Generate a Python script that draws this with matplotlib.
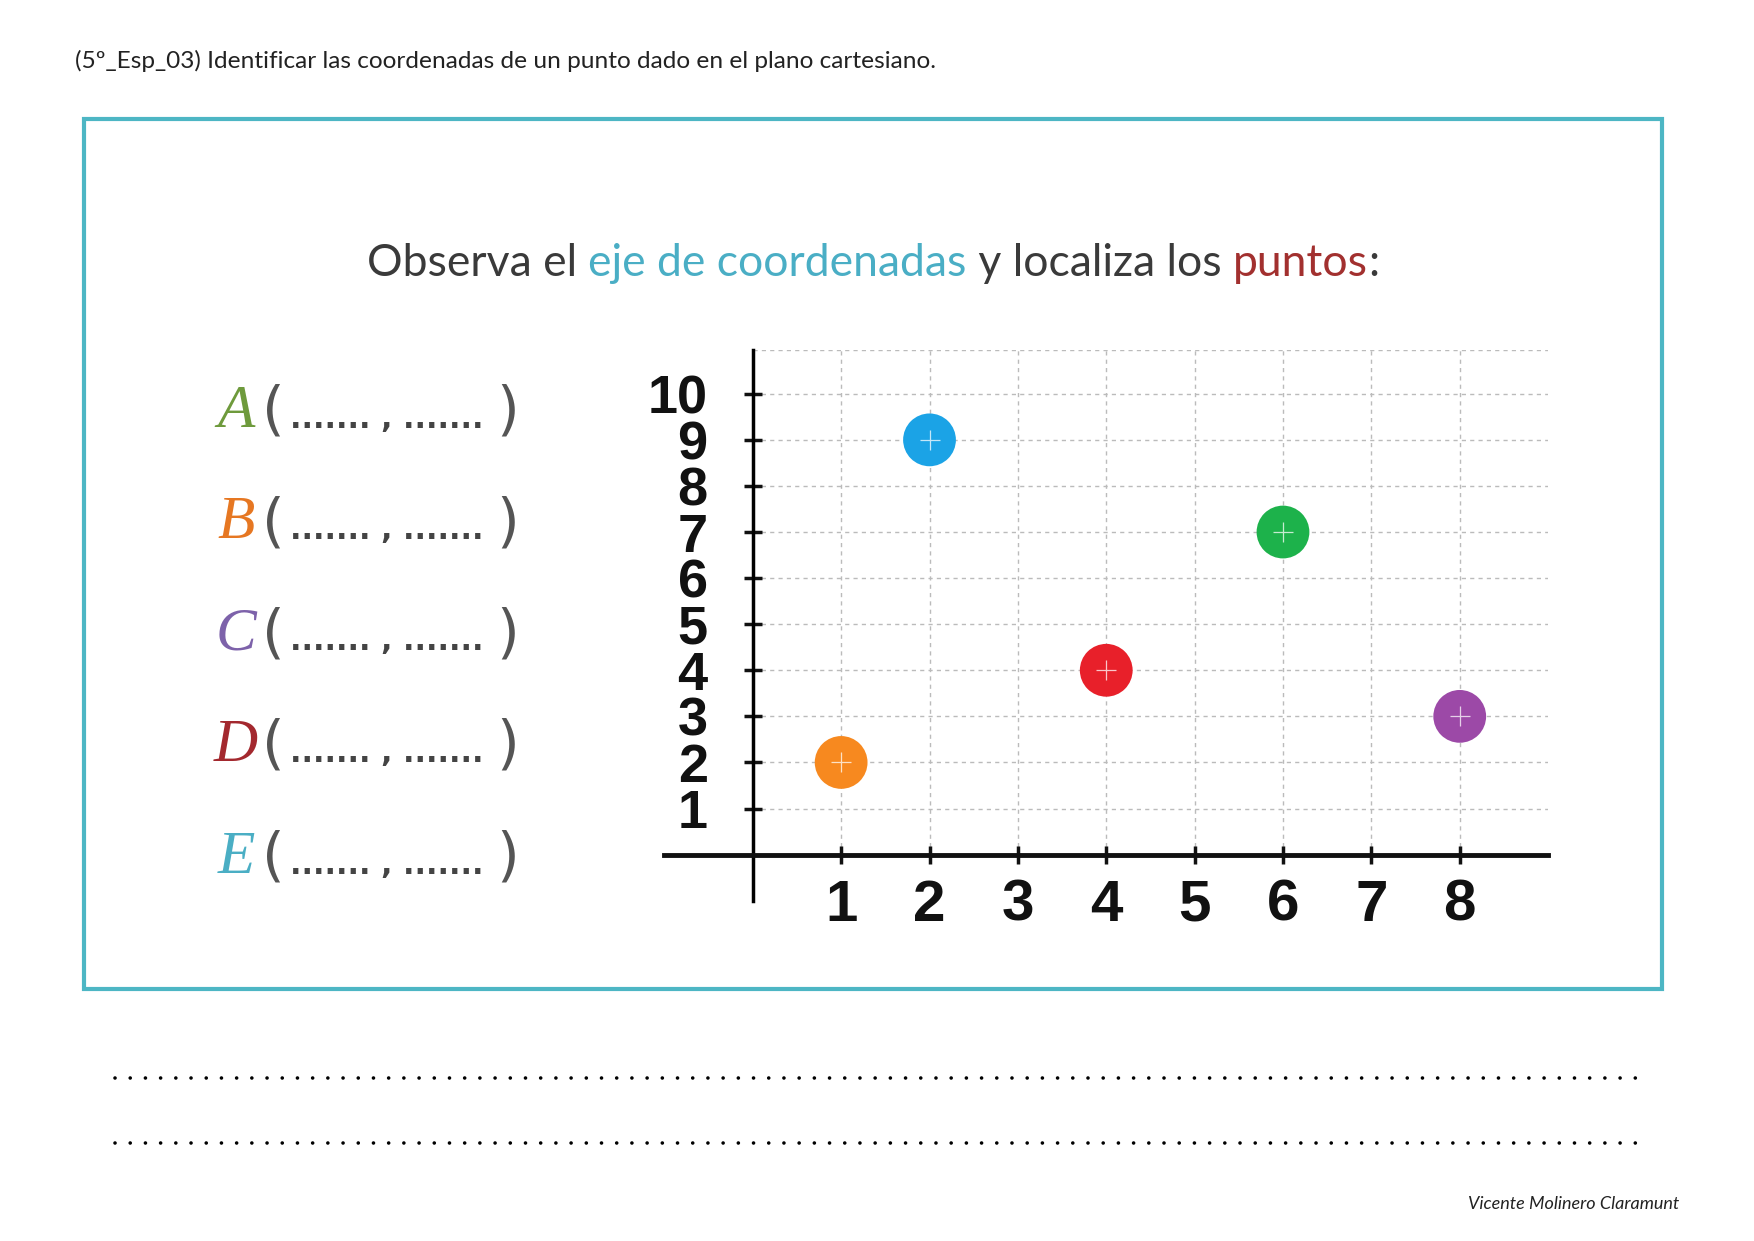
import matplotlib
matplotlib.use('Agg')
import matplotlib.pyplot as plt
from matplotlib.patches import Rectangle
from matplotlib.lines import Line2D
from matplotlib.font_manager import FontProperties

# point data
point_names = ['A', 'B', 'C', 'D', 'E']
point_x = [6, 1, 8, 4, 2]
point_y = [7, 2, 3, 4, 9]
point_colors = ['#1db24b', '#f7891f', '#9c49a7', '#e8202a', '#1ba3e6']
letter_colors = ['#6e9a3c', '#e67722', '#7d62aa', '#a3282e', '#4aaec4']

x_ticks = [1, 2, 3, 4, 5, 6, 7, 8]
y_ticks = [1, 2, 3, 4, 5, 6, 7, 8, 9, 10]

header = '(5º_Esp_03) Identificar las coordenadas de un punto dado en el plano cartesiano.'
title_parts = ['Observa el ', 'eje de coordenadas', ' y localiza los ', 'puntos', ':']
title_colors = ['#3a3a3a', '#4aaec5', '#3a3a3a', '#a2302f', '#3a3a3a']
author = 'Vicente Molinero Claramunt'

W, H = 1754, 1241
fig = plt.figure(figsize=(W / 100, H / 100), dpi=100)
script_font = ['Lato', 'DejaVu Sans']
renderer = fig.canvas.get_renderer()


def fx(px):
    return px / W


def fy(py):
    return 1 - py / H


def width(s, fp):
    bar = renderer.get_text_width_height_descent('|', fp, ismath=False)[0]
    return renderer.get_text_width_height_descent(s + '|', fp, ismath=False)[0] - bar


def fit_size(s, target, **kw):
    fp = FontProperties(size=40, **kw)
    return 40 * target / width(s, fp)


# header line
hs = fit_size(header, 859, family=script_font)
fig.text(fx(75), fy(61), header, fontsize=hs, family=script_font, color='#222222',
         va='center', ha='left')

# frame
fig.patches.append(Rectangle((fx(84), fy(989)), fx(1662) - fx(84), fy(119) - fy(989),
                             transform=fig.transFigure, fill=False,
                             edgecolor='#4db6c4', linewidth=3))

# multicolour title, centred
full_title = ''.join(title_parts)
tfp = FontProperties(family=script_font, size=fit_size(full_title, 1012, family=script_font))
total = width(full_title, tfp)
start = 873 - total / 2
prefix = ''
for part, col in zip(title_parts, title_colors):
    fig.text(fx(start + width(prefix, tfp)), fy(276), part, fontproperties=tfp,
             color=col, va='baseline', ha='left')
    prefix += part

# answer slots on the left
dots = '....... , .......'
ds = fit_size(dots, 192, family=['DejaVu Sans'], weight='bold')
for i, (name, col) in enumerate(zip(point_names, letter_colors)):
    yc = 412 + i * 111.5
    fig.text(fx(236), fy(yc), name, fontsize=44, family=['Liberation Serif', 'DejaVu Serif'],
             style='italic', color=col, va='center', ha='center')
    fig.text(fx(262), fy(yc), '(', fontsize=42, color='#555555', va='center', ha='left',
             family=['DejaVu Sans'])
    fig.text(fx(387), fy(yc + 7), dots, fontsize=ds, fontweight='bold',
             color='#444444', va='center', ha='center', family=['DejaVu Sans'])
    fig.text(fx(496), fy(yc), ')', fontsize=42, color='#555555', va='center', ha='left',
             family=['DejaVu Sans'])

# coordinate plane
ax = fig.add_axes([fx(664.4), fy(900.7), fx(1548.1) - fx(664.4), fy(350) - fy(900.7)])
ax.set_xlim(-1, 9)
ax.set_ylim(-1, 10.95)
ax.set_facecolor('none')

for xv in x_ticks:
    ax.plot([xv, xv], [0, 10.95], color='#bbbbbb', linestyle=(0, (3, 3)), linewidth=1, zorder=1)
for yv in y_ticks + [10.95]:
    ax.plot([0, 9], [yv, yv], color='#bbbbbb', linestyle=(0, (3, 3)), linewidth=1, zorder=1)

for s in ['top', 'right']:
    ax.spines[s].set_visible(False)
ax.spines['left'].set_position(('data', 0))
ax.spines['bottom'].set_position(('data', 0))
ax.spines['left'].set_linewidth(2.5)
ax.spines['bottom'].set_linewidth(3.5)
ax.spines['bottom'].set_color('#111111')

ax.set_xticks(x_ticks)
ax.set_yticks(y_ticks)
ax.set_xticklabels([str(v) for v in x_ticks])
ax.set_yticklabels([str(v) for v in y_ticks])
ax.tick_params(axis='both', direction='inout', length=13, width=2.5, color='#111111')
ax.tick_params(axis='x', pad=11)
ax.tick_params(axis='y', pad=26)
for lab in ax.get_xticklabels():
    lab.set_fontsize(42)
for lab in ax.get_yticklabels():
    lab.set_fontsize(39)
for lab in ax.get_xticklabels() + ax.get_yticklabels():
    lab.set_fontweight('bold')
    lab.set_family(['Liberation Sans', 'DejaVu Sans'])
    lab.set_color('#111111')

ax.scatter(point_x, point_y, s=38 ** 2, c=point_colors, edgecolors='none', zorder=3)
ax.scatter(point_x, point_y, s=15 ** 2, marker='+', c='white', linewidths=0.9,
           alpha=0.75, zorder=4)

# writing lines at the bottom
for yl in [1078, 1143]:
    fig.lines.append(Line2D([fx(115), fx(1640)], [fy(yl), fy(yl)], transform=fig.transFigure,
                            color='black', linewidth=2.6, linestyle=(0, (0.01, 4.2)),
                            dash_capstyle='round'))

fs = fit_size(author, 211, family=script_font, style='italic')
fig.text(fx(1679), fy(1204), author, fontsize=fs, family=script_font, style='italic',
         color='#222222', ha='right', va='center')

fig.savefig('out.png', dpi=100)
